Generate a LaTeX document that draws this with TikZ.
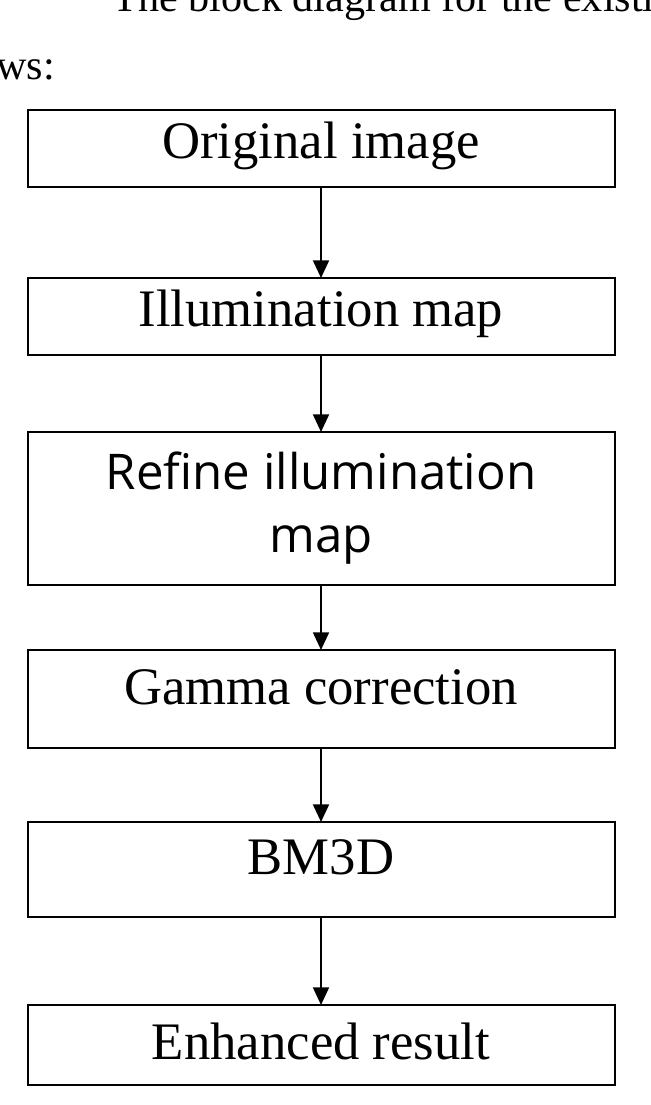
\documentclass[tikz,border=0pt]{standalone}
\usepackage{fontspec}
\setmainfont{Liberation Serif}
\newfontfamily\refont{Open Sans}
\usetikzlibrary{arrows.meta}
\begin{document}
\begin{tikzpicture}[x=0.02cm,y=-0.02cm,
  blk/.style={draw,line width=1.6pt},
  lbl/.style={font=\fontsize{30}{34}\selectfont},
  lbs/.style={font=\refont\fontsize{28}{32}\selectfont},
  arr/.style={-{Triangle[length=10pt,width=9pt]},line width=1.3pt}]
\useasboundingbox (0,0) rectangle (651,1105);
\begin{scope}
\clip (0,0) rectangle (651,1105);
\node[anchor=base west,font=\fontsize{24}{28}\selectfont,inner sep=0] (t1) at (112,12) {The block diagram for the existing};
\node[anchor=base west,font=\fontsize{24}{28}\selectfont,inner sep=0] (t2) at (-4,80) {ws:};
\end{scope}
\draw[blk] (28,110) rectangle (615,187);
\draw[blk] (28,278) rectangle (615,355);
\draw[blk] (28,432) rectangle (615,585);
\draw[blk] (28,650) rectangle (615,748);
\draw[blk] (28,822) rectangle (615,917);
\draw[blk] (28,1005) rectangle (615,1085);
\node[lbl] (l1) at (321,146) {Original image};
\node[lbl] (l2) at (321,314) {Illumination map};
\node[lbs] (l3a) at (321,471) {Refine illumination};
\node[lbs] (l3b) at (321,545) {map};
\node[lbl] (l4) at (321,687) {Gamma correction};
\node[lbl] (l5) at (321,857) {BM3D};
\node[lbl] (l6) at (321,1041) {Enhanced result};
\coordinate (a1) at (321,187); \coordinate (c1) at (321,278);
\coordinate (a2) at (321,355); \coordinate (c2) at (321,432);
\coordinate (a3) at (321,585); \coordinate (c3) at (321,650);
\coordinate (a4) at (321,748); \coordinate (c4) at (321,822);
\coordinate (a5) at (321,917); \coordinate (c5) at (321,1005);
\draw[arr] (a1) -- (c1);
\draw[arr] (a2) -- (c2);
\draw[arr] (a3) -- (c3);
\draw[arr] (a4) -- (c4);
\draw[arr] (a5) -- (c5);
\end{tikzpicture}
\end{document}
